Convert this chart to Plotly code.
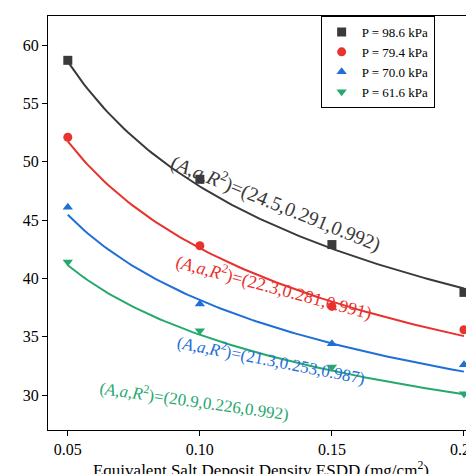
import numpy as np
import plotly.graph_objects as go

esdd = [0.05, 0.10, 0.15, 0.20]
names = ["P = 98.6 kPa", "P = 79.4 kPa", "P = 70.0 kPa", "P = 61.6 kPa"]
u_black = [58.7, 48.5, 42.9, 38.8]
u_red = [52.1, 42.8, 37.6, 35.6]
u_blue = [46.1, 37.8, 34.4, 32.6]
u_green = [41.4, 35.5, 32.4, 30.1]
fit_A = [24.5, 22.3, 21.3, 20.9]
fit_a = [0.291, 0.281, 0.253, 0.226]
fit_r2 = [0.992, 0.991, 0.987, 0.992]

colors = ["#3a3a3a", "#e8322e", "#1f6fd6", "#27a86e"]
symbols = ["square", "circle", "triangle-up", "triangle-down"]
series = [u_black, u_red, u_blue, u_green]
# label position (x, y in data units), rotation, font size
label_pos = [(0.129, 46.5, 22, 20), (0.128, 39.3, 15, 18), (0.127, 33.1, 11, 17), (0.098, 29.6, 8, 17)]

fig = go.Figure()
xs = np.linspace(0.05, 0.20, 100)
for i in range(4):
    fig.add_trace(go.Scatter(x=xs, y=fit_A[i] * xs ** (-fit_a[i]), mode="lines",
                             line=dict(color=colors[i], width=2), showlegend=False, hoverinfo="skip"))
    fig.add_trace(go.Scatter(x=esdd, y=series[i], mode="markers", name=names[i],
                             marker=dict(color=colors[i], symbol=symbols[i], size=9)))
    lx, ly, ang, fs = label_pos[i]
    fig.add_annotation(x=lx, y=ly, textangle=ang, showarrow=False,
                       text=f"(<i>A</i>,<i>a</i>,<i>R</i><sup>2</sup>)=({fit_A[i]},{fit_a[i]},{fit_r2[i]})",
                       font=dict(family="Liberation Serif", size=fs, color=colors[i]))

axis = dict(showgrid=False, zeroline=False, showline=True, linecolor="black", linewidth=1.2,
            mirror=True, ticks="outside", tickcolor="black", ticklen=5,
            tickfont=dict(family="Liberation Serif", size=16, color="black"))
fig.update_xaxes(range=[0.0425, 0.2038], tickvals=[0.05, 0.10, 0.15, 0.20], tickformat=".2f",
                 title=dict(text="Equivalent Salt Deposit Density ESDD (mg/cm<sup>2</sup>)", standoff=2,
                            font=dict(family="Liberation Serif", size=17, color="black")), **axis)
fig.update_yaxes(range=[27.0, 62.5], tickvals=[30, 35, 40, 45, 50, 55, 60], **axis)
fig.update_layout(width=474, height=474, plot_bgcolor="white", paper_bgcolor="white",
                  margin=dict(l=40, r=4, t=8, b=52),
                  legend=dict(x=0.64, y=1.0, xanchor="left", yanchor="top", bgcolor="white",
                              bordercolor="black", borderwidth=1, tracegroupgap=0,
                              font=dict(family="Liberation Serif", size=13, color="black")))
fig.write_html("out.html")
